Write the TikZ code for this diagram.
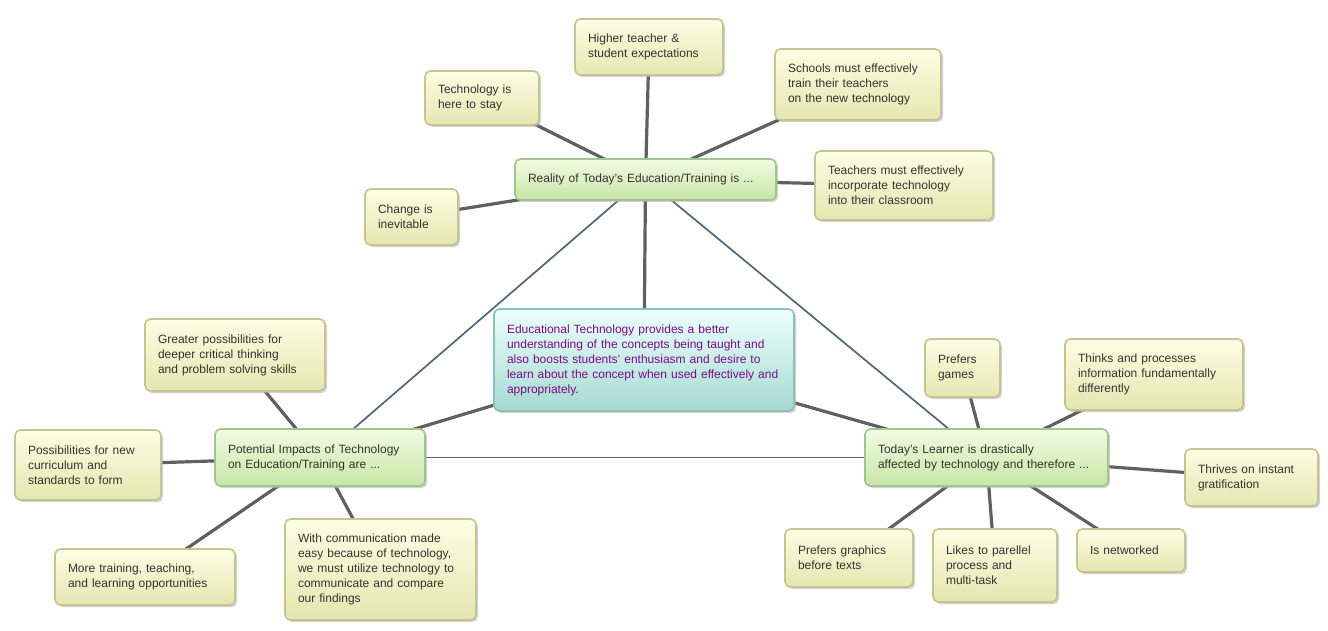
\documentclass[tikz,border=0pt]{standalone}
\usepackage{fontspec}
\setmainfont{Liberation Sans}
\usetikzlibrary{shadows,backgrounds}
\definecolor{leafA}{HTML}{FDFDE4}\definecolor{leafB}{HTML}{E6E6B0}\definecolor{leafD}{HTML}{C4C494}
\definecolor{grA}{HTML}{F2FBE2}\definecolor{grB}{HTML}{C6E6A6}\definecolor{grD}{HTML}{A2C48E}
\definecolor{cyA}{HTML}{ECFFFC}\definecolor{cyB}{HTML}{A6DAD2}\definecolor{cyD}{HTML}{8EC0BA}
\definecolor{thick}{HTML}{606060}\definecolor{thin}{HTML}{52687C}\definecolor{txt}{HTML}{333333}
\definecolor{purp}{HTML}{7A0A8A}
\tikzset{
 basebox/.style={rounded corners=4pt,line width=1.2pt,align=left,font=\fontsize{9}{11.25}\selectfont,
   drop shadow={shadow xshift=1.5pt,shadow yshift=-1.5pt,fill=black!30,opacity=0.6}},
 leaf/.style={basebox,draw=leafD,top color=leafA,bottom color=leafB,text=txt},
 hub/.style={basebox,draw=grD,top color=grA,bottom color=grB,text=txt},
 core/.style={basebox,draw=cyD,top color=cyA,bottom color=cyB,text=purp},
 tk/.style={line width=2.4pt,draw=thick},
 tn/.style={line width=1.3pt,draw=thin}
}
\newcommand\bx[7]{\pgfmathsetmacro\bw{(#4-#2)*0.75}\pgfmathsetmacro\bh{(#5-#3)*0.75}\pgfmathsetmacro\tw{(#4-#2-26)*0.75}%
\node[#1,minimum width=\bw pt,minimum height=\bh pt,text width=\tw pt,inner sep=0pt] (#6) at ({(#2+#4)/2},{(#3+#5)/2+1}) {#7};}
\begin{document}
\begin{tikzpicture}[x=0.75pt,y=-0.75pt]
\useasboundingbox (0,0) rectangle (1328,631);
\bx{leaf}{575}{18}{723}{74}{hte}{Higher teacher \&\\student expectations}
\bx{leaf}{425}{70}{539}{124}{stay}{Technology is\\here to stay}
\bx{leaf}{775}{48}{941}{119}{train}{Schools must effectively\\train their teachers\\on the new technology}
\bx{hub}{515}{158}{776}{199}{real}{Reality of Today's Education/Training is ...}
\bx{leaf}{815}{150}{993}{219}{incorp}{Teachers must effectively\\incorporate technology\\into their classroom}
\bx{leaf}{365}{188}{458}{244}{change}{Change is\\inevitable}
\bx{leaf}{145}{318}{325}{390}{greater}{Greater possibilities for\\deeper critical thinking\\and problem solving skills}
\bx{core}{494}{308}{794}{410}{core}{Educational Technology provides a better\\understanding of the concepts being taught and\\also boosts students' enthusiasm and desire to\\learn about the concept when used effectively and\\appropriately.}
\bx{leaf}{925}{338}{1000}{396}{games}{Prefers\\games}
\bx{leaf}{1065}{338}{1243}{409}{thinks}{Thinks and processes\\information fundamentally\\differently}
\bx{leaf}{15}{429}{161}{499}{curr}{Possibilities for new\\curriculum and\\standards to form}
\bx{hub}{215}{428}{425}{485}{pot}{Potential Impacts of Technology\\on Education/Training are ...}
\bx{hub}{865}{428}{1108}{485}{learn}{Today's Learner is drastically\\affected by technology and therefore ...}
\bx{leaf}{1185}{448}{1318}{505}{thrive}{Thrives on instant\\gratification}
\bx{leaf}{55}{548}{235}{604}{more}{More training, teaching,\\and learning opportunities}
\bx{leaf}{285}{518}{476}{619}{comm}{With communication made\\easy because of technology,\\we must utilize technology to\\communicate and compare\\our findings}
\bx{leaf}{785}{528}{913}{586}{graph}{Prefers graphics\\before texts}
\bx{leaf}{933}{528}{1057}{601}{par}{Likes to parellel\\process and\\multi-task}
\bx{leaf}{1077}{528}{1185}{571}{net}{Is networked}
\begin{scope}[on background layer]
\coordinate (r1) at (620,199);\coordinate (r2) at (670,199);
\coordinate (l1) at (950,430);\coordinate (p1) at (352,430);
\draw[tn] (r1) -- (p1);
\draw[tn] (r2) -- (l1);
\draw[tn] (pot.center) -- (learn.center);
\draw[tk] (real.center) -- (core.center);
\draw[tk] (pot.center) -- (core.center);
\draw[tk] (learn.center) -- (core.center);
\foreach \n in {hte,stay,train,incorp,change} \draw[tk] (real.center) -- (\n.center);
\foreach \n in {greater,curr,more,comm} \draw[tk] (pot.center) -- (\n.center);
\foreach \n in {games,thinks,thrive,graph,par,net} \draw[tk] (learn.center) -- (\n.center);
\end{scope}
\end{tikzpicture}
\end{document}
